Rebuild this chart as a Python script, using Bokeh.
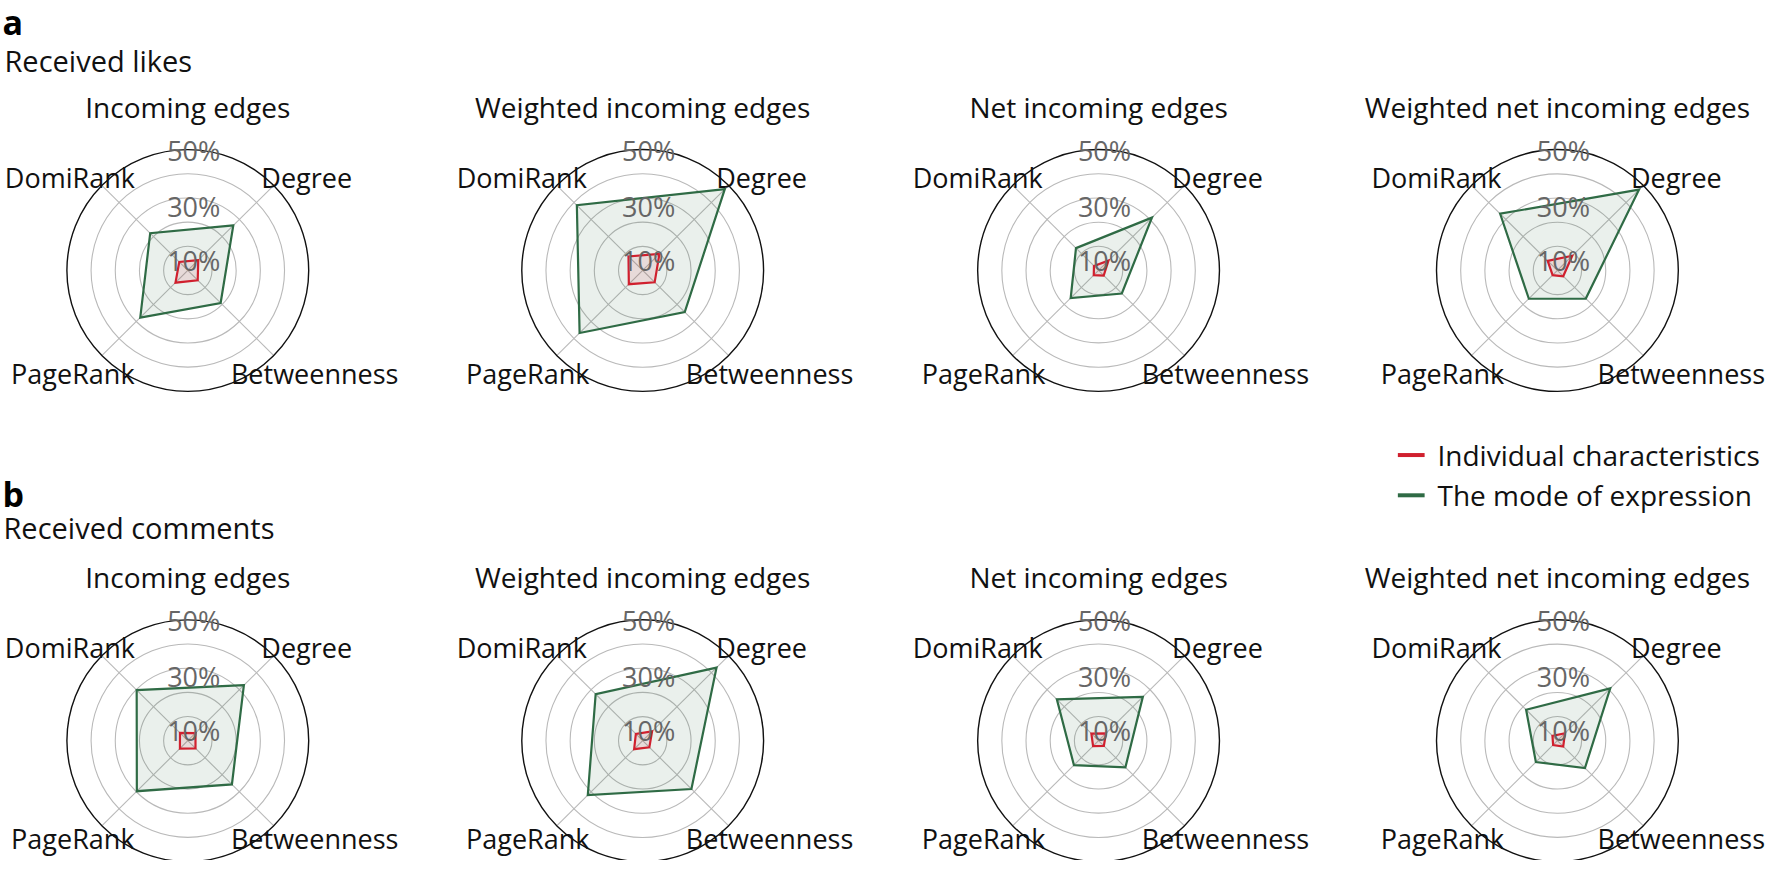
import numpy as np
from bokeh.plotting import figure
from bokeh.models import Range1d
from bokeh.core.properties import value
from bokeh.embed import file_html
from bokeh.resources import INLINE

# ---------------- data ----------------
categories = ["Degree", "DomiRank", "PageRank", "Betweenness"]
angles_deg = [45, 135, 225, 315]
titles = ["Incoming edges", "Weighted incoming edges",
          "Net incoming edges", "Weighted net incoming edges"]
series_names = ["Individual characteristics", "The mode of expression"]

# values in %, order: Degree, DomiRank, PageRank, Betweenness
likes_individual = [[6.1, 5.0, 7.2, 5.8],
                    [9.8, 8.3, 8.1, 7.0],
                    [5.8, 2.7, 2.8, 3.0],
                    [8.7, 5.7, 2.8, 3.4]]
likes_mode = [[26.6, 22.0, 27.8, 19.2],
              [48.0, 38.5, 36.9, 24.6],
              [31.2, 13.2, 16.3, 13.6],
              [47.7, 33.5, 16.7, 16.6]]
comments_individual = [[4.5, 4.6, 4.6, 4.5],
                       [5.5, 4.0, 5.0, 3.9],
                       [4.3, 4.2, 3.2, 3.1],
                       [4.4, 2.9, 2.5, 3.4]]
comments_mode = [[32.8, 29.9, 29.8, 25.8],
                 [43.2, 27.5, 32.1, 28.5],
                 [25.9, 24.4, 14.4, 15.7],
                 [30.9, 18.3, 12.6, 16.1]]
grid_levels = [10, 20, 30, 40]
r_max = 50
tick_values = [10, 30, 50]
tick_labels = ["10%", "30%", "50%"]
panel_letters = ["a", "b"]
panel_titles = ["Received likes", "Received comments"]

# ---------------- layout / style ----------------
REF_W, REF_H = 1784, 876
W, H = 1768, 860
K = 122.0 / r_max          # px per percent
col_x = [189, 648, 1108, 1571]
row_y = [275, 754]
bottom_label_dy = [105, 100]

RED = "#d0202e"
GREEN = "#2f6b45"
GRID = "#b9b9b9"
FONT = value("Open Sans")
FS_BIG = value("28px")
FS = value("27px")

p = figure(width=W, height=H, x_range=Range1d(0, REF_W), y_range=Range1d(REF_H, 0),
           x_axis_type=None, y_axis_type=None, output_backend="svg",
           toolbar_location=None, min_border=0)
p.grid.visible = False
p.outline_line_color = None

th = np.deg2rad(angles_deg)


def to_xy(cx, cy, vals):
    v = np.asarray(vals, dtype=float) * K
    return list(cx + v * np.cos(th)), list(cy - v * np.sin(th))


for ri, (ind_rows, mode_rows) in enumerate([(likes_individual, likes_mode),
                                            (comments_individual, comments_mode)]):
    cy = row_y[ri]
    for ci in range(4):
        cx = col_x[ci]
        # grid circles
        p.circle(x=[cx] * len(grid_levels), y=[cy] * len(grid_levels),
                 radius=[g * K for g in grid_levels], fill_color=None,
                 line_color=GRID, line_width=1.1)
        # spokes
        ex, ey = to_xy(cx, cy, [r_max] * 4)
        p.segment(x0=[cx] * 4, y0=[cy] * 4, x1=ex, y1=ey,
                  line_color=GRID, line_width=1.1)
        # outer circle
        p.circle(x=[cx], y=[cy], radius=[r_max * K], fill_color=None,
                 line_color="#111111", line_width=1.4)
        # mode polygon
        mx, my = to_xy(cx, cy, mode_rows[ci])
        p.patch(mx, my, fill_color=GREEN, fill_alpha=0.1,
                line_color=GREEN, line_width=2.2, line_join="miter")
        ix, iy = to_xy(cx, cy, ind_rows[ci])
        p.patch(ix, iy, fill_color=RED, fill_alpha=0.1,
                line_color=RED, line_width=2.2, line_join="miter")
        # radial tick labels
        offs = {10: -10, 30: -65.5, 50: -122.5}
        p.text(x=[cx + 6] * 3, y=[cy + offs[t] for t in tick_values], text=tick_labels,
               text_font=FONT, text_font_size=FS, text_color="#666666",
               text_align="center", text_baseline="alphabetic")
        # category labels
        lab_dx = [120, -122 if ci else -119, -116, 128 if ci < 3 else 125]
        bdy = bottom_label_dy[ri]
        lab_dy = [-95, -95, bdy, bdy]
        p.text(x=[cx + d for d in lab_dx], y=[cy + d for d in lab_dy], text=categories,
               text_font=FONT, text_font_size=FS, text_color="#111111",
               text_align="center", text_baseline="alphabetic")
        # title
        p.text(x=[cx], y=[cy - 167], text=[titles[ci]],
               text_font=FONT, text_font_size=FS_BIG, text_color="#111111",
               text_align="center", text_baseline="alphabetic")

# panel letters and headings
p.text(x=[2, 2], y=[22, 503], text=panel_letters, text_font=FONT,
       text_font_size=value("34px"), text_font_style="bold", text_color="#000000",
       text_align="left", text_baseline="alphabetic")
p.text(x=[4, 3], y=[61, 537], text=panel_titles, text_font=FONT,
       text_font_size=value("29px"), text_color="#111111",
       text_align="left", text_baseline="alphabetic")

# legend
leg_y = [463, 504]
p.segment(x0=[1410, 1410], y0=leg_y, x1=[1437, 1437], y1=leg_y,
          line_color=[RED, GREEN], line_width=4)
p.text(x=[1450, 1450], y=leg_y, text=series_names, text_font=FONT,
       text_font_size=FS_BIG, text_color="#111111",
       text_align="left", text_baseline="middle")

open("out.html", "w").write(file_html(p, INLINE))
